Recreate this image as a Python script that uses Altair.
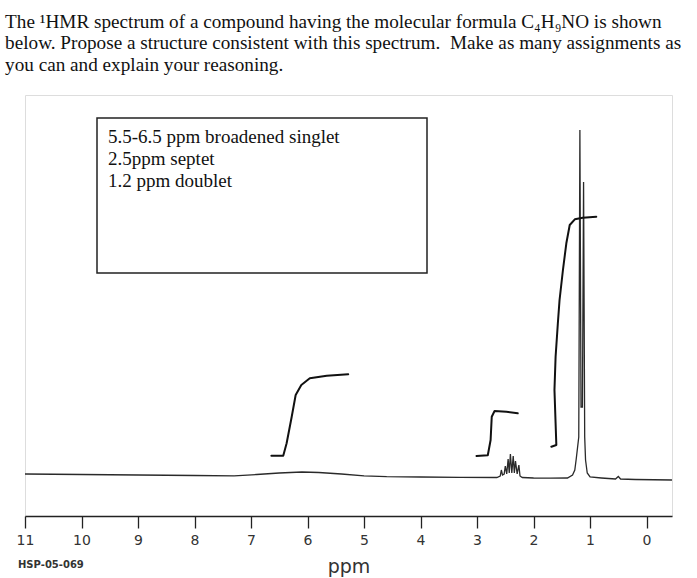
import altair as alt
import pandas as pd

# ---------------- data ----------------
title_lines = [
    "The \u00b9HMR spectrum of a compound having the molecular formula C\u2084H\u2089NO is shown",
    "below. Propose a structure consistent with this spectrum.\u00a0 Make as many assignments as",
    "you can and explain your reasoning.",
]
box_lines = ["5.5-6.5 ppm broadened singlet", "2.5ppm septet", "1.2 ppm doublet"]
code_label = "HSP-05-069"

tick_values = [11, 10.5, 10, 9.5, 9, 8.5, 8, 7.5, 7, 6.5, 6, 5.5, 5, 4.5, 4,
               3.5, 3, 2.5, 2, 1.5, 1, 0.5, 0]

# spectrum trace: chemical shift (ppm) and signal height above baseline
trace_ppm = [11.0, 10.0, 9.0, 8.0, 7.3, 6.9, 6.5, 6.1, 5.8, 5.4, 5.0, 4.6, 4.0, 3.3,
             2.65, 2.59, 2.57, 2.55, 2.52, 2.50, 2.475, 2.45, 2.43, 2.41, 2.385,
             2.36, 2.34, 2.32, 2.29, 2.26, 2.24, 2.20, 2.0, 1.7, 1.40, 1.31, 1.27,
             1.245, 1.20, 1.18, 1.16, 1.135, 1.115, 1.095, 1.08, 1.05, 1.0, 0.8,
             0.55, 0.50, 0.46, 0.2, -0.45]
trace_h = [3.0, 2.5, 2.0, 1.5, 1.2, 2.5, 4.0, 5.0, 4.5, 3.0, 1.2, 0.3, 0.0, -0.3,
           -0.5, 1.0, 7.0, 2.0, 3.0, 11.0, 3.0, 18.0, 4.0, 23.0, 4.0,
           21.0, 4.0, 16.0, 3.0, 12.0, 1.0, -0.5, -1.0, -1.2, -1.0, 2.0, 7.0,
           18.0, 40.0, 347.0, 70.0, 70.0, 295.0, 40.0, 17.0, 4.0, 0.0, -1.0,
           -2.0, 0.5, -2.0, -2.5, -3.0]

# integral curves
int1_ppm = [6.64, 6.43, 6.37, 6.28, 6.21, 6.11, 5.96, 5.66, 5.28]
int1_h = [21.3, 21.3, 33.7, 60.3, 82.0, 92.0, 98.7, 101.3, 102.7]

int2_ppm = [3.01, 2.81, 2.76, 2.74, 2.69, 2.48, 2.28]
int2_h = [21.0, 21.7, 37.0, 60.3, 66.0, 65.3, 63.7]

int3_ppm = [1.685, 1.597, 1.61, 1.63, 1.61, 1.57, 1.54, 1.48, 1.42, 1.36, 1.27, 1.13, 0.89]
int3_h = [30.3, 32.0, 53.7, 87.0, 120.3, 153.7, 177.0, 207.0, 233.7, 252.0, 257.7, 259.3, 260.3]

# ---------------- chart ----------------
W, H = 647, 421
x_scale = alt.Scale(domain=[-0.45, 11.0], reverse=True, nice=False, zero=False)
y_scale = alt.Scale(domain=[-39, 382], nice=False, zero=False)

x_axis = alt.Axis(
    values=tick_values,
    title="ppm",
    grid=False,
    domain=True,
    domainColor="#222",
    domainWidth=1.6,
    tickColor="#222",
    tickWidth=1.3,
    tickSize={"condition": {"test": "datum.value % 1 === 0", "value": 12}, "value": 7},
    labelExpr="datum.value % 1 === 0 ? format(datum.value, 'd') : ''",
    labelFont="DejaVu Sans",
    labelFontSize=14,
    labelColor="#333",
    labelPadding=5,
    labelFlush=False,
    labelOverlap=False,
    titleFont="DejaVu Sans",
    titleFontSize=19,
    titleFontWeight="normal",
    titleColor="#333",
    titlePadding=10,
)

def series(ppm, h):
    return pd.DataFrame({"ppm": ppm, "h": h, "i": list(range(len(ppm)))})

trace = alt.Chart(series(trace_ppm, trace_h)).mark_line(
    color="#2a2a2a", strokeWidth=1.3, clip=True
).encode(
    x=alt.X("ppm:Q", scale=x_scale, axis=x_axis),
    y=alt.Y("h:Q", scale=y_scale, axis=None),
    order="i:Q",
)

def integral(ppm, h):
    return alt.Chart(series(ppm, h)).mark_line(
        color="#111", strokeWidth=2.0, strokeCap="round", strokeJoin="round"
    ).encode(
        x=alt.X("ppm:Q", scale=x_scale),
        y=alt.Y("h:Q", scale=y_scale),
        order="i:Q",
    )

box = alt.Chart(pd.DataFrame({"a": [0]})).mark_rect(
    fill="white", fillOpacity=0, stroke="#222", strokeWidth=1.5
).encode(
    x=alt.value(72), x2=alt.value(402), y=alt.value(23), y2=alt.value(178)
)

box_text = alt.Chart(pd.DataFrame({"t": ["\n".join(box_lines)]})).mark_text(
    align="left", baseline="alphabetic", font="Liberation Serif", fontSize=19,
    lineBreak="\n", lineHeight=22, color="#111"
).encode(x=alt.value(83), y=alt.value(48), text="t:N")

code_text = alt.Chart(pd.DataFrame({"t": [code_label]})).mark_text(
    align="left", baseline="middle", font="DejaVu Sans", fontSize=10,
    fontWeight="bold", color="#333"
).encode(x=alt.value(-7), y=alt.value(470), text="t:N")

chart = alt.layer(
    box, box_text, trace,
    integral(int1_ppm, int1_h), integral(int2_ppm, int2_h), integral(int3_ppm, int3_h),
    code_text,
).properties(
    width=W, height=H,
    title=alt.TitleParams(
        text=title_lines, anchor="start", dx=-11, offset=20,
        font="Liberation Serif", fontSize=19.2, fontWeight="normal",
        color="#111", lineHeight=21.5,
    ),
    autosize=alt.AutoSizeParams(type="none"),
    padding={"left": 25, "top": 95, "right": 25, "bottom": 62},
).configure_view(
    stroke="#222", strokeWidth=1.6
).configure(background="white")

chart.save("out.html", embed_options={"renderer": "svg", "actions": False})
